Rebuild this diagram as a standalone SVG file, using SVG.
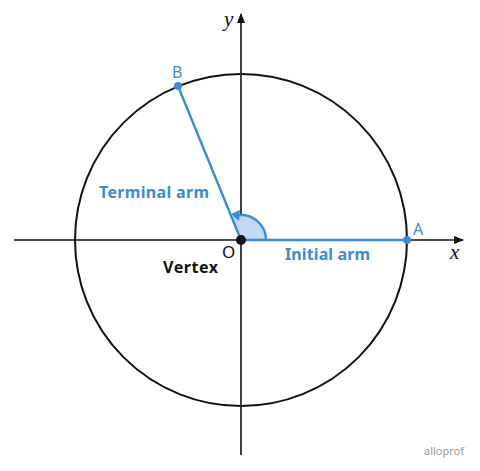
<svg xmlns="http://www.w3.org/2000/svg" width="480" height="471" viewBox="0 0 480 471">
<style>
.ax{stroke:#111;stroke-width:1.6;fill:none}
.bl{stroke:#3d8ad8;stroke-width:2.4;fill:none}
.lbl{font-family:"Noto Sans","Liberation Sans",sans-serif;font-weight:bold;font-size:16px;fill:#3d8ad8}
.var{font-family:"Liberation Serif",serif;font-style:italic;font-size:21px;fill:#111}
.pt{font-family:"Noto Sans","Liberation Sans",sans-serif;font-size:16px;fill:#3d8ad8}
</style>
<defs>
<marker id="ah" markerWidth="10" markerHeight="10" refX="9" refY="5" orient="auto" markerUnits="userSpaceOnUse">
<path d="M0,1 L10,5 L0,9 Z" fill="#111"/>
</marker>
</defs>
<rect width="480" height="471" fill="#fff"/>
<g id="axes">
<line class="ax" x1="14" y1="240" x2="463" y2="240" marker-end="url(#ah)"/>
<line class="ax" x1="241" y1="455" x2="241" y2="14" marker-end="url(#ah)"/>
<text class="var" x="224" y="26">y</text>
<text class="var" x="450" y="259">x</text>
</g>
<g id="circle"><circle cx="241" cy="240" r="166" fill="none" stroke="#111" stroke-width="2"/></g>
<g id="angle">
<path d="M241,240 L266,240 A25,25 0 0 0 231.6,216.8 Z" fill="#c3d7f6" stroke="none"/>
<path d="M266,240 A25,25 0 0 0 236,215.5" class="bl" stroke-width="2.2"/>
<path d="M231,214 L240,210 L239,221 Z" fill="#3d8ad8"/>
</g>
<g id="connectors">
<line class="bl" x1="241" y1="240" x2="407" y2="240"/>
<line class="bl" x1="241" y1="240" x2="178" y2="86"/>
</g>
<g id="O"><circle cx="241" cy="240" r="5" fill="#111"/><text x="222" y="258" font-family="Noto Sans, Liberation Sans, sans-serif" font-size="17" fill="#111">O</text></g>
<g id="A"><circle cx="407" cy="240" r="4" fill="#3d8ad8"/><text class="pt" x="413" y="235">A</text></g>
<g id="B"><circle cx="178" cy="86" r="4" fill="#3d8ad8"/><text class="pt" x="172" y="78">B</text></g>
<text class="lbl" x="99" y="198" textLength="110">Terminal arm</text>
<text class="lbl" x="285" y="260" textLength="85">Initial arm</text>
<text x="163" y="273" font-family="Noto Sans, Liberation Sans, sans-serif" font-weight="bold" font-size="16" fill="#111" textLength="55">Vertex</text>
<text x="424" y="455" font-family="Noto Sans, Liberation Sans, sans-serif" font-size="11" fill="#999">alloprof</text>
</svg>
